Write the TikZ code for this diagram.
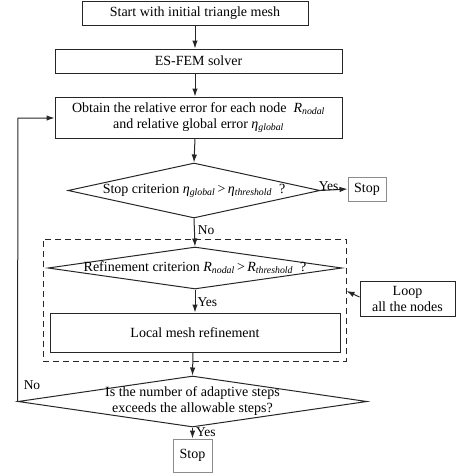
\documentclass[tikz,border=0pt]{standalone}
\usepackage{fontspec}
\setmainfont{Liberation Serif}
\usetikzlibrary{shapes.geometric,arrows.meta}
\newcommand{\ital}[1]{\textit{#1}}
\newcommand{\sbs}[1]{\textsubscript{\textit{#1}}}
\tikzset{
  box/.style={draw=black!85, line width=1pt, rectangle, inner sep=0pt},
  dia/.style={draw=black!85, line width=1pt, diamond, inner sep=0pt},
  stopbox/.style={draw=black!45, line width=1pt, rectangle, inner sep=0pt, minimum width=38pt},
  arr/.style={-{Latex[length=8pt,width=5.5pt]}, line width=1pt, draw=black!85},
  lbl/.style={font=\fontsize{13.5}{15}\selectfont, inner sep=0pt},
}
\begin{document}
\begin{tikzpicture}[x=1pt,y=-1pt, font=\fontsize{14}{16}\selectfont]
\useasboundingbox (0,0) rectangle (474,474);
\node[box, minimum width=226pt, minimum height=24pt] (b1) at (195,13) {Start with initial triangle mesh};
\node[box, minimum width=287pt, minimum height=24pt] (b2) at (198.5,61) {ES-FEM solver};
\node[box, minimum width=287pt, minimum height=41pt, align=center] (b3) at (198.5,117.5)
  {Obtain the relative error for each node \ \ital{R}\sbs{nodal}\\and relative global error \ital{η}\sbs{global}};
\node[dia, minimum width=252pt, minimum height=55pt] (d1) at (194,190.5) {};
\node[inner sep=0pt] (t1) at (d1.center) {Stop criterion \ital{η}\sbs{global}\,>\,\ital{η}\sbs{threshold} \ ?};
\node[stopbox, minimum height=24pt] (s1) at (367,189) {Stop};
\node[draw=black!85, dash pattern=on 6pt off 4pt, line width=1pt, minimum width=303pt, minimum height=122pt, inner sep=0pt] (dash) at (194.5,300) {};
\node[dia, minimum width=294pt, minimum height=42pt] (d2) at (195,268) {};
\node[inner sep=0pt] (t2) at (d2.center) {Refinement criterion \ital{R}\sbs{nodal}\,>\,\ital{R}\sbs{threshold} \ ?};
\node[box, minimum width=290pt, minimum height=39pt] (b4) at (195,332.5) {Local mesh refinement};
\node[box, minimum width=95pt, minimum height=35pt, align=center] (loop) at (407.5,298.5) {Loop\\all the nodes};
\node[dia, minimum width=349pt, minimum height=51pt] (d3) at (192.5,401.5) {};
\node[inner sep=0pt, align=center] (t3) at (d3.center) {Is the number of adaptive steps\\exceeds the allowable steps?};
\node[stopbox, minimum width=39pt, minimum height=33pt] (s2) at (192.5,455.5) {Stop};
\coordinate (c1) at (18,118);
\draw[arr] (b1.south -| 195,0) -- (b2.north -| 195,0);
\draw[arr] (b2.south -| 195,0) -- (b3.north -| 195,0);
\draw[arr] (b3.south -| 195,0) -- (d1.north);
\draw[arr] (d1.east) -- (s1.west) node[lbl, pos=0.3, above, yshift=-1pt] {Yes};
\draw[arr] (d1.south) -- (d2.north) node[lbl, pos=0.4, right, xshift=3pt] {No};
\draw[arr] (d2.south) -- (b4.north) node[lbl, pos=0.55, right, xshift=2pt] {Yes};
\draw[arr] (b4.south -| 193,0) -- (d3.north);
\draw[arr] (d3.south) -- (s2.north) node[lbl, pos=0.45, right, xshift=3pt] {Yes};
\draw[arr] (d3.west) -- (c1) -- (b3.west |- c1);
\node[lbl] (no2) at (32,385) {No};
\draw[arr] (loop.west |- 0,297) -- (346.5,291);
\end{tikzpicture}
\end{document}
